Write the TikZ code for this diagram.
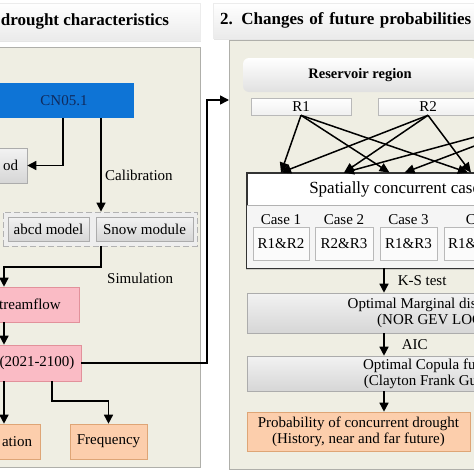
\documentclass[tikz,border=0pt]{standalone}
\usepackage{fontspec}
\setmainfont{Liberation Serif}
\usetikzlibrary{arrows.meta,positioning,shadows,calc}

\definecolor{panelbg}{RGB}{239,238,227}
\definecolor{panelline}{RGB}{175,175,170}
\definecolor{cnblue}{RGB}{14,116,214}
\definecolor{cntext}{RGB}{16,42,92}
\definecolor{pinkfill}{RGB}{250,187,197}
\definecolor{pinkline}{RGB}{226,145,155}
\definecolor{orangefill}{RGB}{252,206,172}
\definecolor{orangeline}{RGB}{222,165,118}

\tikzset{
  every node/.style={font=\fontsize{15}{16}\selectfont, inner sep=0pt},
  panel/.style={draw=panelline, line width=0.9pt, fill=panelbg},
  titlebar/.style={top color=white, bottom color=gray!16, draw=gray!15,
    drop shadow={opacity=0.2, shadow xshift=1pt, shadow yshift=-1.5pt},
    font=\fontsize{17}{20}\selectfont\bfseries},
  greybox/.style={top color=gray!10, bottom color=gray!32, draw=gray!65, line width=0.6pt},
  pinkbox/.style={fill=pinkfill, draw=pinkline, line width=0.6pt},
  orangebox/.style={fill=orangefill, draw=orangeline, line width=0.6pt},
  bluebox/.style={fill=cnblue, text=cntext},
  regbox/.style={top color=white, bottom color=gray!12, draw=gray!55, line width=0.6pt},
  casebox/.style={fill=gray!3, draw=gray!55, line width=0.6pt},
  flow/.style={line width=1.5pt, -{Triangle[length=9pt,width=9pt]}},
  link/.style={line width=1.5pt, -{Triangle[length=10pt,width=9pt]}},
  note/.style={anchor=west},
}

\begin{document}
\begin{tikzpicture}[x=1pt,y=-1pt]
\useasboundingbox (0,0) rectangle (474,474);
\fill[white] (0,0) rectangle (474,474);
\clip (0,0) rectangle (474,474);

% part 1
\node[titlebar, minimum width=230pt, minimum height=37pt] (title1) at (85,21.5) {drought characteristics};
\node[panel, minimum width=240pt, minimum height=420pt] (panel1) at (80,257) {};

\node[bluebox, minimum width=140pt, minimum height=35pt] (cn) at (64,100.5) {CN05.1};
\node[greybox, minimum width=33pt, minimum height=35pt] (method) at (10.5,165.5) {od};
\node[draw=gray!60, dashed, dash pattern=on 6pt off 3pt, line width=0.8pt, fill=gray!13,
  minimum width=194pt, minimum height=34pt] (modules) at (100,229) {};
\node[greybox, minimum width=81pt, minimum height=24pt] (abcd) at (48.5,229) {abcd model};
\node[greybox, minimum width=97pt, minimum height=24pt] (snow) at (144.5,229) {Snow module};
\node[pinkbox, minimum width=98pt, minimum height=35pt] (stream) at (30,304.5) {treamflow};
\node[pinkbox, minimum width=88pt, minimum height=36pt] (future) at (37,363) {(2021-2100)};
\node[orangebox, minimum width=46pt, minimum height=35pt] (dur) at (17,441.5) {ation};
\node[orangebox, minimum width=77pt, minimum height=35pt] (freq) at (108.5,441.5) {Frequency};

\node[note] (calibtxt) at (105,175) {Calibration};
\node[note] (simtxt) at (107,278) {Simulation};

\coordinate (calib) at (101,0);
\coordinate (simcol) at (4,0);
\coordinate (simrow) at (0,267);
\coordinate (freqcol) at (52,0);
\coordinate (freqrow) at (0,401);
\coordinate (linkcol) at (207,100);

\draw[flow] ([xshift=-1pt]cn.south) |- (method.east);
\draw[flow] (calib |- cn.south) -- (calib |- modules.north);
\draw[flow] (calib |- modules.south) -- (calib |- simrow) -| (simcol |- stream.north);
\draw[flow] (simcol |- stream.south) -- (simcol |- future.north);
\draw[flow] (simcol |- future.south) -- (simcol |- dur.north);
\draw[flow] (freqcol |- future.south) -- (freqcol |- freqrow) -| (freq.north);

% part 2
\node[titlebar, minimum height=35pt, text width=330pt, align=left, inner xsep=7pt, anchor=west]
  (title2) at (213,20.5) {2. Changes of future probabilities of};
\node[panel, minimum width=520pt, minimum height=429pt, anchor=north west] (panel2) at (229,40) {};

\draw[flow] (future.east) -| (linkcol) -- (linkcol -| panel2.west);

\node[top color=white, bottom color=gray!24, rounded corners=6pt, minimum width=234pt, minimum height=34pt,
  font=\fontsize{14.5}{16}\selectfont\bfseries] (resv) at (360,75) {Reservoir region};
\foreach \r/\x in {1/301, 2/428, 3/555}
  \node[regbox, minimum width=100pt, minimum height=17pt] (r\r) at (\x,106.5) {R\r};

\node[draw=gray!40!black, fill=white, line width=0.8pt, minimum width=302pt, minimum height=95pt,
  drop shadow={opacity=0.3, shadow xshift=-1.5pt, shadow yshift=-1.5pt}] (scc) at (398,220.5) {};
\fill[gray!8] (scc.west |- 0,205) rectangle (scc.south east);
\draw[gray!60] (scc.west |- 0,205) -- (scc.east |- 0,205);
\draw[gray!40!black, line width=0.8pt] (scc.north west) rectangle (scc.south east);
\node[font=\fontsize{17}{20}\selectfont] (scctitle) at (398,189) {Spatially concurrent cases};

\foreach \c/\x/\w/\t in {1/281/56/R1\&R2, 2/344/58/R2\&R3, 3/408.5/57/R1\&R3, 4/486/84/R1\&R2\&R3} {
  \node[casebox, minimum width=\w pt, minimum height=33pt] (c\c) at (\x,243.5) {\t};
  \node[above=2pt of c\c] (lab\c) {Case \c};
}

\foreach \r/\c/\dx in {1/1/0, 2/1/0, 2/2/0, 3/2/0, 1/3/-19, 3/3/-4, 1/4/-18, 2/4/-15, 3/4/-10}
  \draw[link] (r\r.south) -- ($(c\c |- scc.north)+(\dx,0)$);

\node[greybox, minimum width=382pt, minimum height=40pt, align=center] (marg) at (438,313)
  {Optimal Marginal distribution\\(NOR GEV LOGN)};
\node[greybox, minimum width=382pt, minimum height=35pt, align=center] (cop) at (438,373.5)
  {Optimal Copula function\\(Clayton Frank Gumbel)};
\node[orangebox, minimum width=223pt, minimum height=39pt, align=center] (prob) at (358.5,431.5)
  {Probability of concurrent drought\\(History, near and far future)};

\coordinate (flowcol) at (384,0);
\draw[flow] (flowcol |- scc.south) -- (flowcol |- marg.north) node[midway, right=13pt] (kstxt) {K-S test};
\draw[flow] (flowcol |- marg.south) -- (flowcol |- cop.north) node[midway, right=17pt] (aictxt) {AIC};
\draw[flow] (flowcol |- cop.south) -- (flowcol |- prob.north);
\end{tikzpicture}
\end{document}
